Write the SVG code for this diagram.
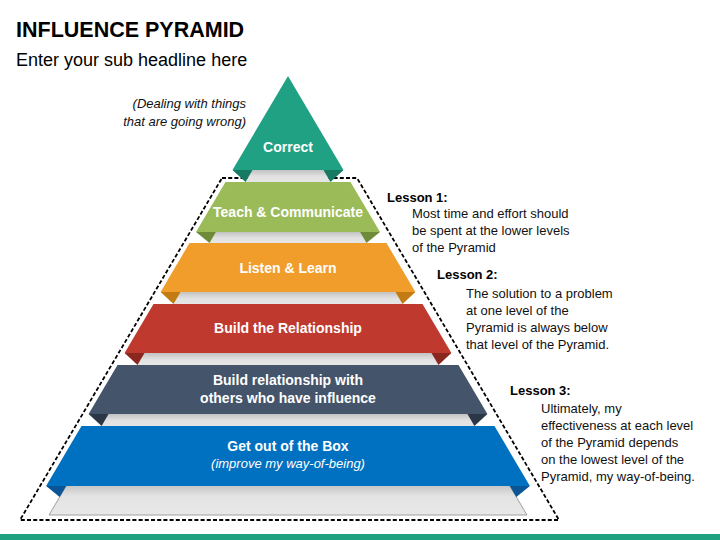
<svg xmlns="http://www.w3.org/2000/svg" width="720" height="540" viewBox="0 0 720 540">
  <defs>
    <linearGradient id="gap" x1="0" y1="0" x2="0" y2="1">
      <stop offset="0" stop-color="#C2C2C2"/>
      <stop offset="0.55" stop-color="#E2E2E2"/>
      <stop offset="1" stop-color="#E6E6E6"/>
    </linearGradient>
    <linearGradient id="base" x1="0" y1="0" x2="0" y2="1">
      <stop offset="0" stop-color="#C6C6C6"/>
      <stop offset="0.35" stop-color="#E4E4E4"/>
      <stop offset="1" stop-color="#E8E8E8"/>
    </linearGradient>
    <style>
      .title { font-family: "Liberation Sans", Arial, sans-serif; font-weight: bold; font-size: 21.5px; fill: #000; }
      .sub { font-family: "Liberation Sans", Arial, sans-serif; font-size: 18px; fill: #000; }
      .lbl { font-family: "Liberation Sans", Arial, sans-serif; font-weight: bold; font-size: 14px; fill: #fff; text-anchor: middle; }
      .lbli { font-family: "Liberation Sans", Arial, sans-serif; font-style: italic; font-size: 13px; fill: #fff; text-anchor: middle; }
      .note { font-family: "Liberation Sans", Arial, sans-serif; font-style: italic; font-size: 13px; fill: #111; text-anchor: end; }
      .lh { font-family: "Liberation Sans", Arial, sans-serif; font-weight: bold; font-size: 13px; fill: #000; }
      .lt { font-family: "Liberation Sans", Arial, sans-serif; font-size: 13px; fill: #111; }
      .gap { fill: url(#gap); }
      .outline { fill: none; stroke: #000; stroke-width: 1.8; stroke-dasharray: 4 2.2; }
    </style>
  </defs>

  <rect x="0" y="0" width="720" height="540" fill="#fff"/>

  <text class="title" x="16" y="37">INFLUENCE PYRAMID</text>
  <text class="sub" x="16" y="66">Enter your sub headline here</text>

  <g id="connectors">
    <path id="outline" class="outline" d="M222,178 L357,178 L559,520 L20,520 Z"/>
  </g>

  <g id="backing">
    <polygon points="288,110 49,515 527,515" fill="#E6E6E6"/>
    <polygon class="gap" points="252.6,170 323.4,170 330.5,182 245.5,182"/>
    <polygon class="gap" points="216,232 360,232 366.5,243 209.5,243"/>
    <polygon class="gap" points="180.6,292 395.4,292 402.5,304 173.5,304"/>
    <polygon class="gap" points="144.6,353 431.4,353 438.5,365 137.5,365"/>
    <polygon class="gap" points="108.6,414 467.4,414 474.4,426 101.6,426"/>
    <polygon fill="url(#base)" points="66.2,486 509.8,486 527,515 49,515"/>
    <path d="M66.2,486 L49,515 L527,515 L509.8,486" fill="none" stroke="#A0A0A0" stroke-width="1"/>
  </g>

  <g id="correct">
    <polygon points="232.5,170 252.6,170 245.5,182" fill="#167A63"/>
    <polygon points="343.5,170 323.4,170 330.5,182" fill="#167A63"/>
    <polygon points="288,76 343.5,170 232.5,170" fill="#21A184"/>
    <text class="lbl" x="288" y="152">Correct</text>
  </g>

  <g id="teach">
    <polygon points="196,232 216,232 209.5,243" fill="#6E8B39"/>
    <polygon points="380,232 360,232 366.5,243" fill="#6E8B39"/>
    <polygon points="225.5,182 350.5,182 380,232 196,232" fill="#9BBB59"/>
    <text class="lbl" x="288" y="217">Teach &amp; Communicate</text>
  </g>

  <g id="listen">
    <polygon points="160.6,292 180.6,292 173.5,304" fill="#C27B12"/>
    <polygon points="415.4,292 395.4,292 402.5,304" fill="#C27B12"/>
    <polygon points="189.5,243 386.5,243 415.4,292 160.6,292" fill="#F19D2B"/>
    <text class="lbl" x="288" y="273">Listen &amp; Learn</text>
  </g>

  <g id="relationship">
    <polygon points="124.6,353 144.6,353 137.5,365" fill="#8A2820"/>
    <polygon points="451.4,353 431.4,353 438.5,365" fill="#8A2820"/>
    <polygon points="153.5,304 422.5,304 451.4,353 124.6,353" fill="#C0392F"/>
    <text class="lbl" x="288" y="333">Build the Relationship</text>
  </g>

  <g id="influence">
    <polygon points="88.6,414 108.6,414 101.6,426" fill="#2B3747"/>
    <polygon points="487.4,414 467.4,414 474.4,426" fill="#2B3747"/>
    <polygon points="117.5,365 458.5,365 487.4,414 88.6,414" fill="#44546A"/>
    <text class="lbl" x="288" y="385">Build relationship with</text>
    <text class="lbl" x="288" y="403">others who have influence</text>
  </g>

  <g id="box">
    <polygon points="46.1,486 66.2,486 59.7,497" fill="#0A5595"/>
    <polygon points="529.9,486 509.8,486 516.3,497" fill="#0A5595"/>
    <polygon points="81.5,426 494.5,426 529.9,486 46.1,486" fill="#0070C0"/>
    <text class="lbl" x="288" y="451">Get out of the Box</text>
    <text class="lbli" x="288" y="468">(improve my way-of-being)</text>
  </g>

  <g id="note-correct">
    <text class="note" x="246" y="108">(Dealing with things</text>
    <text class="note" x="246" y="126">that are going wrong)</text>
  </g>

  <g id="lesson1">
    <text class="lh" x="387" y="202">Lesson 1:</text>
    <text class="lt" x="412" y="218">Most time and effort should</text>
    <text class="lt" x="412" y="235">be spent at the lower levels</text>
    <text class="lt" x="412" y="252">of the Pyramid</text>
  </g>

  <g id="lesson2">
    <text class="lh" x="437" y="279">Lesson 2:</text>
    <text class="lt" x="466" y="298">The solution to a problem</text>
    <text class="lt" x="466" y="315">at one level of the</text>
    <text class="lt" x="466" y="332">Pyramid is always below</text>
    <text class="lt" x="466" y="349">that level of the Pyramid.</text>
  </g>

  <g id="lesson3">
    <text class="lh" x="510" y="395">Lesson 3:</text>
    <text class="lt" x="541" y="413">Ultimately, my</text>
    <text class="lt" x="541" y="430">effectiveness at each level</text>
    <text class="lt" x="541" y="447">of the Pyramid depends</text>
    <text class="lt" x="541" y="464">on the lowest level of the</text>
    <text class="lt" x="541" y="481">Pyramid, my way-of-being.</text>
  </g>

  <rect id="footer-bar" x="0" y="534" width="720" height="6" fill="#1FA07F"/>
</svg>
